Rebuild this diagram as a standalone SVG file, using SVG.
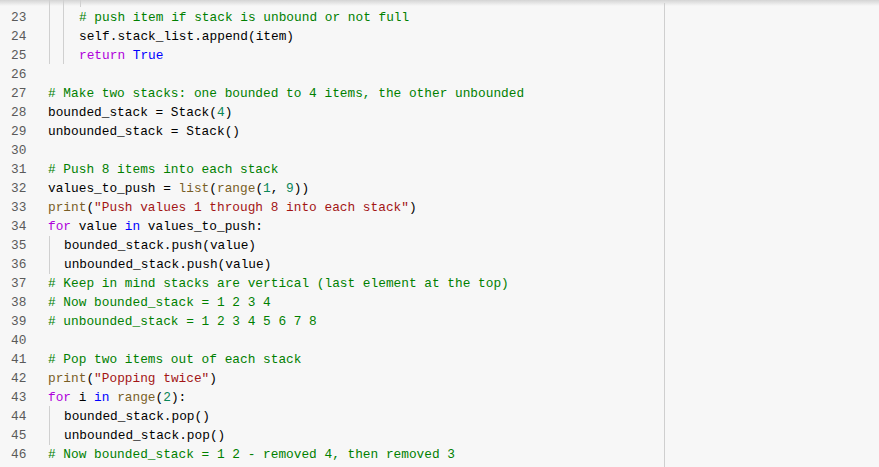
<svg xmlns="http://www.w3.org/2000/svg" width="879" height="467" viewBox="0 0 879 467">
<defs><linearGradient id="sh" x1="0" y1="0" x2="0" y2="1"><stop offset="0" stop-color="#d4d4d4"/><stop offset="1" stop-color="#f7f7f7"/></linearGradient></defs>
<style>
text{font-family:"Liberation Mono","DejaVu Sans Mono",monospace;font-size:12.8px;fill:#000;white-space:pre}
.n{fill:#5a5a5a}.c{fill:#008000}.k{fill:#AF00DB}.b{fill:#0000FF}.d{fill:#098658}.s{fill:#A31515}.f{fill:#795E26}
.g{stroke:#d0d0d0;stroke-width:1}
</style>
<rect width="879" height="467" fill="#f7f7f7"/>
<rect width="879" height="6" fill="url(#sh)"/>
<line x1="664.5" y1="3" x2="664.5" y2="467" stroke="#cfcfcf"/>
<g id="guides">
<line class="g" x1="49.5" y1="0" x2="49.5" y2="64"/><line class="g" x1="63.5" y1="0" x2="63.5" y2="64"/><line class="g" x1="80.5" y1="0" x2="80.5" y2="7"/>
<line class="g" x1="49.5" y1="236" x2="49.5" y2="274"/>
<line class="g" x1="49.5" y1="406" x2="49.5" y2="445"/>
</g>
<g id="linenums" class="n">
<text x="11" y="21" class="n">23</text><text x="11" y="40" class="n">24</text><text x="11" y="59" class="n">25</text><text x="11" y="78" class="n">26</text><text x="11" y="97" class="n">27</text><text x="11" y="116" class="n">28</text><text x="11" y="135" class="n">29</text><text x="11" y="154" class="n">30</text><text x="11" y="173" class="n">31</text><text x="11" y="192" class="n">32</text><text x="11" y="211" class="n">33</text><text x="11" y="230" class="n">34</text><text x="11" y="249" class="n">35</text><text x="11" y="268" class="n">36</text><text x="11" y="287" class="n">37</text><text x="11" y="306" class="n">38</text><text x="11" y="325" class="n">39</text><text x="11" y="344" class="n">40</text><text x="11" y="363" class="n">41</text><text x="11" y="382" class="n">42</text><text x="11" y="401" class="n">43</text><text x="11" y="420" class="n">44</text><text x="11" y="439" class="n">45</text><text x="11" y="458" class="n">46</text>
</g>
<g id="code">
<text x="79" y="21" class="c"># push item if stack is unbound or not full</text>
<text x="79" y="40">self.stack_list.append(item)</text>
<text x="79" y="59"><tspan class="k">return</tspan> <tspan class="b">True</tspan></text>
<text x="48" y="97" class="c"># Make two stacks: one bounded to 4 items, the other unbounded</text>
<text x="48" y="116">bounded_stack = Stack(<tspan class="d">4</tspan>)</text>
<text x="48" y="135">unbounded_stack = Stack()</text>
<text x="48" y="173" class="c"># Push 8 items into each stack</text>
<text x="48" y="192">values_to_push = <tspan class="f">list</tspan>(<tspan class="f">range</tspan>(<tspan class="d">1</tspan>, <tspan class="d">9</tspan>))</text>
<text x="48" y="211"><tspan class="f">print</tspan>(<tspan class="s">"Push values 1 through 8 into each stack"</tspan>)</text>
<text x="48" y="230"><tspan class="k">for</tspan> value <tspan class="b">in</tspan> values_to_push:</text>
<text x="64" y="249">bounded_stack.push(value)</text>
<text x="64" y="268">unbounded_stack.push(value)</text>
<text x="48" y="287" class="c"># Keep in mind stacks are vertical (last element at the top)</text>
<text x="48" y="306" class="c"># Now bounded_stack = 1 2 3 4</text>
<text x="48" y="325" class="c"># unbounded_stack = 1 2 3 4 5 6 7 8</text>
<text x="48" y="363" class="c"># Pop two items out of each stack</text>
<text x="48" y="382"><tspan class="f">print</tspan>(<tspan class="s">"Popping twice"</tspan>)</text>
<text x="48" y="401"><tspan class="k">for</tspan> i <tspan class="b">in</tspan> <tspan class="f">range</tspan>(<tspan class="d">2</tspan>):</text>
<text x="64" y="420">bounded_stack.pop()</text>
<text x="64" y="439">unbounded_stack.pop()</text>
<text x="48" y="458" class="c"># Now bounded_stack = 1 2 - removed 4, then removed 3</text>
</g>
</svg>
